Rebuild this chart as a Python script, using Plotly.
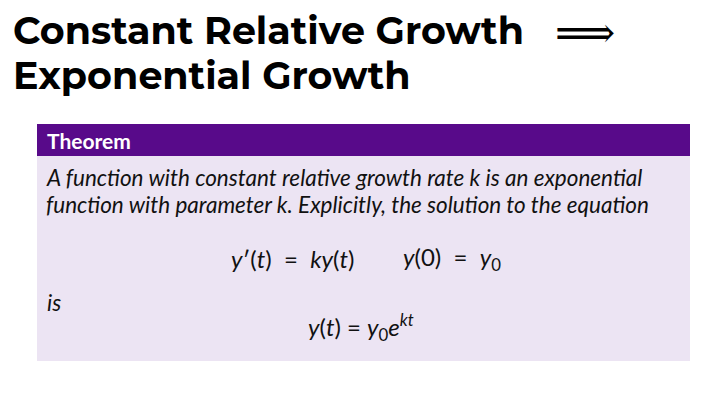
import plotly.graph_objects as go

# ---- slide content ----
title_lines = ["Constant Relative Growth", "Exponential Growth"]
title_arrow = "⟹"
block_title = "Theorem"
body_lines = [
    "A function with constant relative growth rate k is an exponential",
    "function with parameter k. Explicitly, the solution to the equation",
]
equation_1 = "<i>y</i>′(<i>t</i>)  =  <i>ky</i>(<i>t</i>)"
equation_2 = "<i>y</i>(0)  =  <i>y</i><sub>0</sub>"
connector = "is"
equation_3 = "<i>y</i>(<i>t</i>) = <i>y</i><sub>0</sub><i>e</i><sup><i>kt</i></sup>"

W, H = 728, 410
OX, OY = -8, -8          # page body margin compensation
HEADER_COLOR = "#580a8a"
BODY_COLOR = "#ece4f3"
TEXT_FONT = "Lato"

fig = go.Figure()

def rect(x0, x1, y0, y1, color):
    fig.add_shape(type="rect", x0=x0 + OX, x1=x1 + OX, y0=y0 + OY, y1=y1 + OY,
                  fillcolor=color, line=dict(width=0), layer="below")

rect(37, 690, 124, 156, HEADER_COLOR)
rect(37, 690, 156, 361, BODY_COLOR)

def ann(text, x, y, size, family=TEXT_FONT, color="#111111", xanchor="left"):
    fig.add_annotation(text=text, x=x + OX, y=y + OY, xref="x", yref="y",
                       showarrow=False, xanchor=xanchor, yanchor="middle",
                       font=dict(size=size, family=family, color=color))

# title
TITLE_FONT = "Montserrat, Lato, Open Sans"
ann("<b>" + title_lines[0] + "</b>", 11, 30, 38, family=TITLE_FONT, color="#000000")
ann(title_arrow, 553, 32, 42, family="DejaVu Serif", color="#000000")
ann("<b>" + title_lines[1] + "</b>", 11, 75, 38, family=TITLE_FONT, color="#000000")

# theorem header
ann("<b>" + block_title + "</b>", 45, 140, 21, color="#ffffff")

# body
ann("<i>" + body_lines[0] + "</i>", 44, 177, 22.5)
ann("<i>" + body_lines[1] + "</i>", 44, 204, 22.5)
ann(equation_1, 356, 258, 24, xanchor="right")
ann(equation_2, 401, 258, 24)
ann("<i>" + connector + "</i>", 45, 302, 22.5)
ann(equation_3, 306, 327, 24)

fig.update_xaxes(range=[0, W], visible=False, fixedrange=True)
fig.update_yaxes(range=[H, 0], visible=False, fixedrange=True)
fig.update_layout(width=W, height=H, margin=dict(l=0, r=0, t=0, b=0),
                  paper_bgcolor="white", plot_bgcolor="white", showlegend=False)

fig.write_html("out.html", config={"displayModeBar": False})
